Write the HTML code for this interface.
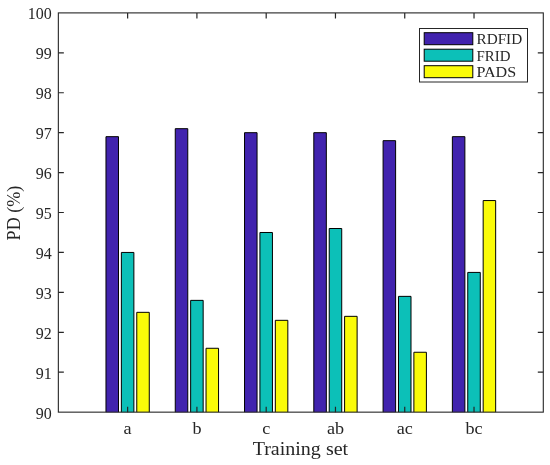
<!DOCTYPE html><html><head><meta charset="utf-8"><title>PD chart</title><style>html,body{margin:0;padding:0;background:#fff}svg{display:block}text{font-family:"Liberation Serif","DejaVu Serif",serif;fill:#262626}</style></head><body>
<svg width="550" height="465" viewBox="0 0 550 465">
<rect width="550" height="465" fill="#fff"/>
<path d="M105.98 412.15V136.67H118.49V412.15" fill="#4123AE" stroke="#000" stroke-width="1"/>
<path d="M175.25 412.15V128.68H187.77V412.15" fill="#4123AE" stroke="#000" stroke-width="1"/>
<path d="M244.53 412.15V132.68H257.05V412.15" fill="#4123AE" stroke="#000" stroke-width="1"/>
<path d="M313.81 412.15V132.68H326.33V412.15" fill="#4123AE" stroke="#000" stroke-width="1"/>
<path d="M383.09 412.15V140.66H395.61V412.15" fill="#4123AE" stroke="#000" stroke-width="1"/>
<path d="M452.37 412.15V136.67H464.88V412.15" fill="#4123AE" stroke="#000" stroke-width="1"/>
<path d="M121.37 412.15V252.45H133.89V412.15" fill="#0CC0B8" stroke="#000" stroke-width="1"/>
<path d="M190.65 412.15V300.36H203.17V412.15" fill="#0CC0B8" stroke="#000" stroke-width="1"/>
<path d="M259.93 412.15V232.49H272.44V412.15" fill="#0CC0B8" stroke="#000" stroke-width="1"/>
<path d="M329.21 412.15V228.50H341.72V412.15" fill="#0CC0B8" stroke="#000" stroke-width="1"/>
<path d="M398.48 412.15V296.37H411.00V412.15" fill="#0CC0B8" stroke="#000" stroke-width="1"/>
<path d="M467.76 412.15V272.41H480.28V412.15" fill="#0CC0B8" stroke="#000" stroke-width="1"/>
<path d="M136.77 412.15V312.34H149.28V412.15" fill="#FAFB08" stroke="#000" stroke-width="1"/>
<path d="M206.04 412.15V348.27H218.56V412.15" fill="#FAFB08" stroke="#000" stroke-width="1"/>
<path d="M275.32 412.15V320.32H287.84V412.15" fill="#FAFB08" stroke="#000" stroke-width="1"/>
<path d="M344.60 412.15V316.33H357.12V412.15" fill="#FAFB08" stroke="#000" stroke-width="1"/>
<path d="M413.88 412.15V352.26H426.40V412.15" fill="#FAFB08" stroke="#000" stroke-width="1"/>
<path d="M483.16 412.15V200.55H495.67V412.15" fill="#FAFB08" stroke="#000" stroke-width="1"/>
<rect x="58.35" y="12.9" width="484.94999999999993" height="399.25" fill="none" stroke="#262626" stroke-width="1.1"/>
<text x="51.8" y="418.55" font-size="17.6" text-anchor="end" textLength="16.0" lengthAdjust="spacingAndGlyphs">90</text>
<path d="M58.35 372.22h5.5M543.3 372.22h-5.5" stroke="#262626" stroke-width="1.2" fill="none"/>
<text x="51.8" y="378.62" font-size="17.6" text-anchor="end" textLength="16.0" lengthAdjust="spacingAndGlyphs">91</text>
<path d="M58.35 332.30h5.5M543.3 332.30h-5.5" stroke="#262626" stroke-width="1.2" fill="none"/>
<text x="51.8" y="338.70" font-size="17.6" text-anchor="end" textLength="16.0" lengthAdjust="spacingAndGlyphs">92</text>
<path d="M58.35 292.38h5.5M543.3 292.38h-5.5" stroke="#262626" stroke-width="1.2" fill="none"/>
<text x="51.8" y="298.77" font-size="17.6" text-anchor="end" textLength="16.0" lengthAdjust="spacingAndGlyphs">93</text>
<path d="M58.35 252.45h5.5M543.3 252.45h-5.5" stroke="#262626" stroke-width="1.2" fill="none"/>
<text x="51.8" y="258.85" font-size="17.6" text-anchor="end" textLength="16.0" lengthAdjust="spacingAndGlyphs">94</text>
<path d="M58.35 212.52h5.5M543.3 212.52h-5.5" stroke="#262626" stroke-width="1.2" fill="none"/>
<text x="51.8" y="218.92" font-size="17.6" text-anchor="end" textLength="16.0" lengthAdjust="spacingAndGlyphs">95</text>
<path d="M58.35 172.60h5.5M543.3 172.60h-5.5" stroke="#262626" stroke-width="1.2" fill="none"/>
<text x="51.8" y="179.00" font-size="17.6" text-anchor="end" textLength="16.0" lengthAdjust="spacingAndGlyphs">96</text>
<path d="M58.35 132.68h5.5M543.3 132.68h-5.5" stroke="#262626" stroke-width="1.2" fill="none"/>
<text x="51.8" y="139.08" font-size="17.6" text-anchor="end" textLength="16.0" lengthAdjust="spacingAndGlyphs">97</text>
<path d="M58.35 92.75h5.5M543.3 92.75h-5.5" stroke="#262626" stroke-width="1.2" fill="none"/>
<text x="51.8" y="99.15" font-size="17.6" text-anchor="end" textLength="16.0" lengthAdjust="spacingAndGlyphs">98</text>
<path d="M58.35 52.82h5.5M543.3 52.82h-5.5" stroke="#262626" stroke-width="1.2" fill="none"/>
<text x="51.8" y="59.22" font-size="17.6" text-anchor="end" textLength="16.0" lengthAdjust="spacingAndGlyphs">99</text>
<text x="51.8" y="19.30" font-size="17.6" text-anchor="end" textLength="24.0" lengthAdjust="spacingAndGlyphs">100</text>
<path d="M127.63 412.15v-5.5M127.63 12.9v5.5" stroke="#262626" stroke-width="1.2" fill="none"/>
<text x="127.63" y="433.8" font-size="16.2" text-anchor="middle" textLength="8.06" lengthAdjust="spacingAndGlyphs">a</text>
<path d="M196.91 412.15v-5.5M196.91 12.9v5.5" stroke="#262626" stroke-width="1.2" fill="none"/>
<text x="196.91" y="433.8" font-size="16.2" text-anchor="middle" textLength="9.07" lengthAdjust="spacingAndGlyphs">b</text>
<path d="M266.19 412.15v-5.5M266.19 12.9v5.5" stroke="#262626" stroke-width="1.2" fill="none"/>
<text x="266.19" y="433.8" font-size="16.2" text-anchor="middle" textLength="8.06" lengthAdjust="spacingAndGlyphs">c</text>
<path d="M335.46 412.15v-5.5M335.46 12.9v5.5" stroke="#262626" stroke-width="1.2" fill="none"/>
<text x="335.46" y="433.8" font-size="16.2" text-anchor="middle" textLength="17.13" lengthAdjust="spacingAndGlyphs">ab</text>
<path d="M404.74 412.15v-5.5M404.74 12.9v5.5" stroke="#262626" stroke-width="1.2" fill="none"/>
<text x="404.74" y="433.8" font-size="16.2" text-anchor="middle" textLength="16.11" lengthAdjust="spacingAndGlyphs">ac</text>
<path d="M474.02 412.15v-5.5M474.02 12.9v5.5" stroke="#262626" stroke-width="1.2" fill="none"/>
<text x="474.02" y="433.8" font-size="16.2" text-anchor="middle" textLength="17.13" lengthAdjust="spacingAndGlyphs">bc</text>
<text x="300.4" y="454.6" font-size="19" text-anchor="middle" textLength="95.5" lengthAdjust="spacingAndGlyphs">Training set</text>
<text transform="translate(20.3 213.1) rotate(-90)" font-size="19" text-anchor="middle" textLength="54.6" lengthAdjust="spacingAndGlyphs">PD (%)</text>
<rect x="419.5" y="28.5" width="108" height="53.5" fill="#fff" stroke="#262626" stroke-width="1"/>
<rect x="424.2" y="32.70" width="48.6" height="12" fill="#4123AE" stroke="#000" stroke-width="1"/>
<text x="476.5" y="44.20" font-size="15.5" textLength="45.7" lengthAdjust="spacingAndGlyphs">RDFID</text>
<rect x="424.2" y="49.20" width="48.6" height="12" fill="#0CC0B8" stroke="#000" stroke-width="1"/>
<text x="476.5" y="60.70" font-size="15.5" textLength="33.9" lengthAdjust="spacingAndGlyphs">FRID</text>
<rect x="424.2" y="65.70" width="48.6" height="12" fill="#FAFB08" stroke="#000" stroke-width="1"/>
<text x="476.5" y="77.20" font-size="15.5" textLength="39.7" lengthAdjust="spacingAndGlyphs">PADS</text>
</svg></body></html>
